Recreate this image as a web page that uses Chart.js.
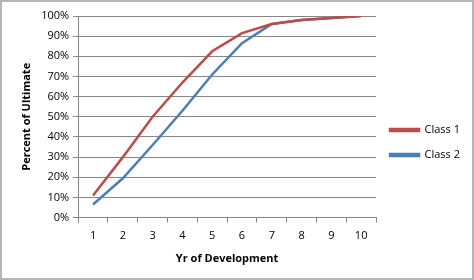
<html>
<head>
  <script src="https://cdn.jsdelivr.net/npm/chart.js"></script>
  <style>
    body { margin: 0; background: white; }
    .cornice {
      width: 474px;
      height: 280px;
      box-sizing: border-box;
      border: 2px solid #b4b4b4;
      position: relative;
    }
  </style>
</head>
<body>
  <div class="cornice">
    <canvas id="grafico"></canvas>
  </div>
  <script>
    // anni di sviluppo e percentuali
    var anni = ["1", "2", "3", "4", "5", "6", "7", "8", "9", "10"];
    var classe1 = [11, 30, 50, 67, 82.5, 91.5, 96, 98, 99, 100];
    var classe2 = [6.5, 19.5, 36, 53, 71, 86.5, 96, 98, 99, 100];
    var etichetteY = [0, 10, 20, 30, 40, 50, 60, 70, 80, 90, 100];

    var font = "'Open Sans', sans-serif";
    var grigio = '#868686';

    new Chart(document.getElementById('grafico'), {
      type: 'line',
      data: {
        labels: anni,
        datasets: [{
          label: 'Class 1',
          data: classe1,
          borderColor: '#be4b48',
          backgroundColor: '#be4b48',
          borderWidth: 2.5,
          pointRadius: 0,
          tension: 0
        }, {
          label: 'Class 2',
          data: classe2,
          borderColor: '#4a7ebb',
          backgroundColor: '#4a7ebb',
          borderWidth: 2.5,
          pointRadius: 0,
          tension: 0
        }]
      },
      options: {
        responsive: true,
        maintainAspectRatio: false,
        animation: false,
        layout: { padding: { top: 14, left: 14, right: 2, bottom: 9 } },
        plugins: {
          legend: {
            position: 'right',
            align: 'center',
            labels: {
              boxWidth: 29,
              boxHeight: 2,
              padding: 14,
              color: '#000',
              font: { family: font, size: 11 }
            }
          },
          tooltip: { enabled: false }
        },
        scales: {
          x: {
            offset: true,
            grid: { offset: true, drawOnChartArea: false, drawTicks: true, tickLength: 5, color: grigio },
            border: { color: grigio },
            ticks: { color: '#000', font: { family: font, size: 11 }, padding: 7 },
            title: { display: true, text: 'Yr of Development', color: '#000', font: { family: font, size: 11, weight: 'bold' }, padding: { top: 2 } }
          },
          y: {
            min: 0,
            max: 100,
            afterBuildTicks: function (scala) {
              scala.ticks = etichetteY.map(function (v) { return { value: v }; });
            },
            grid: { color: grigio, tickLength: 5 },
            border: { color: grigio },
            ticks: {
              color: '#000',
              font: { family: font, size: 11 },
              padding: 4,
              callback: function (v) { return v + '%'; }
            },
            title: { display: true, text: 'Percent of Ultimate', color: '#000', font: { family: font, size: 11, weight: 'bold' } }
          }
        }
      }
    });
  </script>
</body>
</html>
